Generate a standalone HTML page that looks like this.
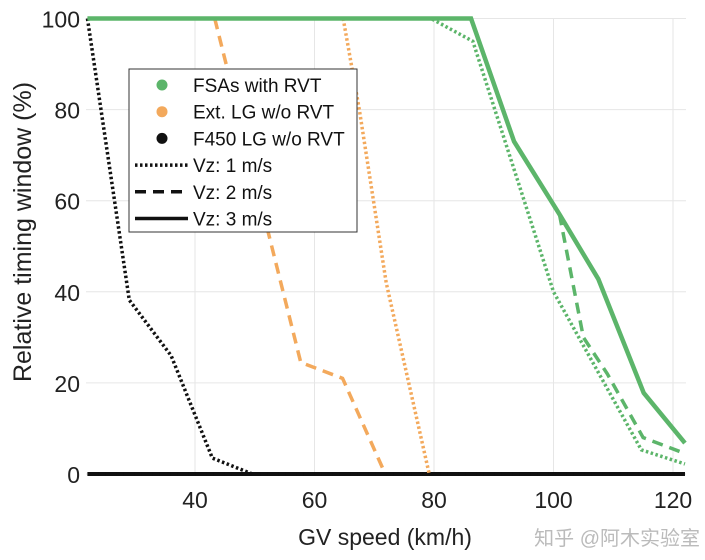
<!DOCTYPE html>
<html><head><meta charset="utf-8"><style>
body{margin:0;background:#fff;}
svg{display:block;font-family:"Liberation Sans","Noto Sans CJK SC",sans-serif;}
</style></head><body>
<svg id="chart" width="705" height="560"></svg>
<script>
const xTicks=[40,60,80,100,120];
const yTicks=[0,20,40,60,80,100];
const f450Dot={x:[22,29,36,42.9,49.6],y:[100,38.2,26,3.5,0]};
const f450Dash={x:[22,122],y:[0,0]};
const f450Solid={x:[22,122],y:[0,0]};
const extDot={x:[64.8,67.5,72,79.2],y:[100,80,42,0]};
const extDash={x:[43.3,57.7,64.7,71.4],y:[100,24.5,21,1.3]};
const fsaDot={x:[22,79.5,86.5,100,114.7,122],y:[100,100,95,40,5.3,2.2]};
const fsaDash={x:[101,105,109,115,122],y:[57,30,22,8,4.5]};
const fsaSolid={x:[22,86.2,93.4,101,107.5,115.1,122],y:[100,100,73,57,42.8,17.8,6.8]};
const X=v=>195+(v-40)*5.975, Y=v=>474-v*4.555;
const NS="http://www.w3.org/2000/svg", svg=document.getElementById('chart');
function mk(t,a,p){const e=document.createElementNS(NS,t);for(const k in a)e.setAttribute(k,a[k]);(p||svg).appendChild(e);return e;}
const G='#5cb56a',O='#f3a95c',K='#111';
xTicks.forEach(t=>{const l=mk('line',{x1:X(t),x2:X(t),y1:18,y2:474,stroke:'#e6e6e6','stroke-width':1});

const tx=mk('text',{x:X(t),y:508,'text-anchor':'middle','font-size':23,fill:'#222'});tx.textContent=t;
});
yTicks.forEach(t=>{const l=mk('line',{x1:86,x2:686,y1:Y(t),y2:Y(t),stroke:'#e6e6e6','stroke-width':1});

const tx=mk('text',{x:80,y:Y(t)+9,'text-anchor':'end','font-size':23,fill:'#222'});tx.textContent=t;
});
function line(s,c,dash,w,name){const d=s.x.map((v,i)=>(i?'L':'M')+X(v)+','+Y(s.y[i])).join('');
const p=mk('path',{d:d,fill:'none',stroke:c,'stroke-width':w,'stroke-dasharray':dash});
}
const DOT='2.5 2.5',DASH='11 7';
line(f450Solid,K,'none',4,'f450-3ms-line');
line(f450Dash,K,DASH,4,'f450-2ms-line');
line(extDot,O,DOT,3.5,'ext-1ms-line');
line(extDash,O,DASH,3.5,'ext-2ms-line');
line(f450Dot,K,DOT,3.5,'f450-1ms-line');
line(fsaDot,G,DOT,3.5,'fsa-1ms-line');
line(fsaDash,G,DASH,3.5,'fsa-2ms-line');
line(fsaSolid,G,'none',4.5,'fsa-3ms-line');
let t=mk('text',{x:385,y:545,'text-anchor':'middle','font-size':23,fill:'#222'});t.textContent='GV speed (km/h)';

t=mk('text',{x:0,y:0,'text-anchor':'middle','font-size':25,fill:'#222',transform:'translate(31,232) rotate(-90)'});t.textContent='Relative timing window (%)';

t=mk('text',{x:700,y:545,'text-anchor':'end','font-size':20,fill:'#bbb'});t.textContent='知乎 @阿木实验室';

const lg=mk('g',{});
mk('rect',{x:129,y:69,width:228,height:163,fill:'#fff',stroke:'#333','stroke-width':1},lg);
const ent=[['c',G,'FSAs with RVT'],['c',O,'Ext. LG w/o RVT'],['c',K,'F450 LG w/o RVT'],['l',DOT,'Vz: 1 m/s'],['l',DASH,'Vz: 2 m/s'],['l','none','Vz: 3 m/s']];
ent.forEach((e,i)=>{const y=85+i*26.7;const g=mk('g',{},lg);

if(e[0]=='c')mk('circle',{cx:162,cy:y,r:5.5,fill:e[1]},g);
else mk('line',{x1:135,x2:188,y1:y,y2:y,stroke:K,'stroke-width':3.5,'stroke-dasharray':e[1]},g);
const tx=mk('text',{x:193,y:y+7,'font-size':19,fill:'#111'},g);tx.textContent=e[2];});
</script>
</body></html>
